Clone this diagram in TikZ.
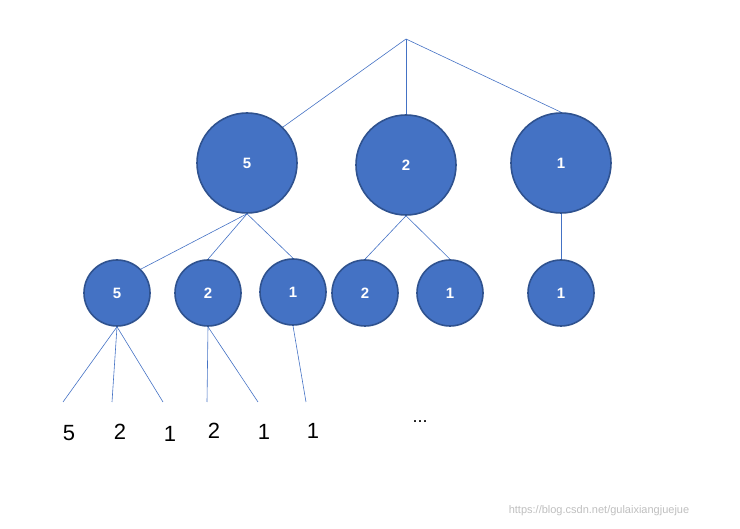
\documentclass[tikz,border=0pt]{standalone}
\usepackage{fontspec}
\setmainfont{Liberation Sans}
\definecolor{cfill}{HTML}{4472C4}
\definecolor{cedge}{HTML}{2F528F}
\begin{document}
\begin{tikzpicture}[x=1pt,y=-1pt,
  big/.style={circle,fill=cfill,draw=cedge,line width=1.6pt,minimum size=100pt,inner sep=0pt,text=white,font=\bfseries\fontsize{15}{15}\selectfont},
  small/.style={circle,fill=cfill,draw=cedge,line width=1.6pt,minimum size=66pt,inner sep=0pt,text=white,font=\bfseries\fontsize{15}{15}\selectfont},
  edge/.style={draw=cfill,line width=0.6pt},
  leaf/.style={inner sep=0pt,font=\fontsize{22}{22}\selectfont}]
\useasboundingbox (0,0) rectangle (740,529);
\coordinate (r) at (406,39);
\node[big] (A) at (247,163) {5};
\node[big] (B) at (406,165) {2};
\node[big] (C) at (561,163) {1};
\node[small] (a1) at (117,293) {5};
\node[small] (a2) at (208,293) {2};
\node[small] (a3) at (293,292) {1};
\node[small] (b1) at (365,293) {2};
\node[small] (b2) at (450,293) {1};
\node[small] (c1) at (561,293) {1};
\draw[edge] (r) -- (A.north east);
\draw[edge] (r) -- (B.north);
\draw[edge] (r) -- (C.north);
\draw[edge] (A.south) -- (a1.north east);
\draw[edge] (A.south) -- (a2.north);
\draw[edge] (A.south) -- (a3.north);
\draw[edge] (B.south) -- (b1.north);
\draw[edge] (B.south) -- (b2.north);
\draw[edge] (C.south) -- (c1.north);
\coordinate (l1) at (63,402); \coordinate (l2) at (112,402); \coordinate (l3) at (163,402);
\coordinate (l4) at (207,402); \coordinate (l5) at (258,402); \coordinate (l6) at (306,402);
\draw[edge] (a1.south) -- (l1); \draw[edge] (a1.south) -- (l2); \draw[edge] (a1.south) -- (l3);
\draw[edge] (a2.south) -- (l4); \draw[edge] (a2.south) -- (l5);
\draw[edge] (a3.south) -- (l6);
\node[leaf] (t1) at (69,433) {5};
\node[leaf] (t2) at (120,432) {2};
\node[leaf] (t3) at (170,434) {1};
\node[leaf] (t4) at (214,431) {2};
\node[leaf] (t5) at (264,432) {1};
\node[leaf] (t6) at (313,431) {1};
\node[inner sep=0pt,font=\fontsize{18}{18}\selectfont] (dots) at (420,422) {...};
\node[inner sep=0pt,text=black!25,font=\fontsize{11}{11}\selectfont] (wm) at (599,511) {https://blog.csdn.net/gulaixiangjuejue};
\end{tikzpicture}
\end{document}
